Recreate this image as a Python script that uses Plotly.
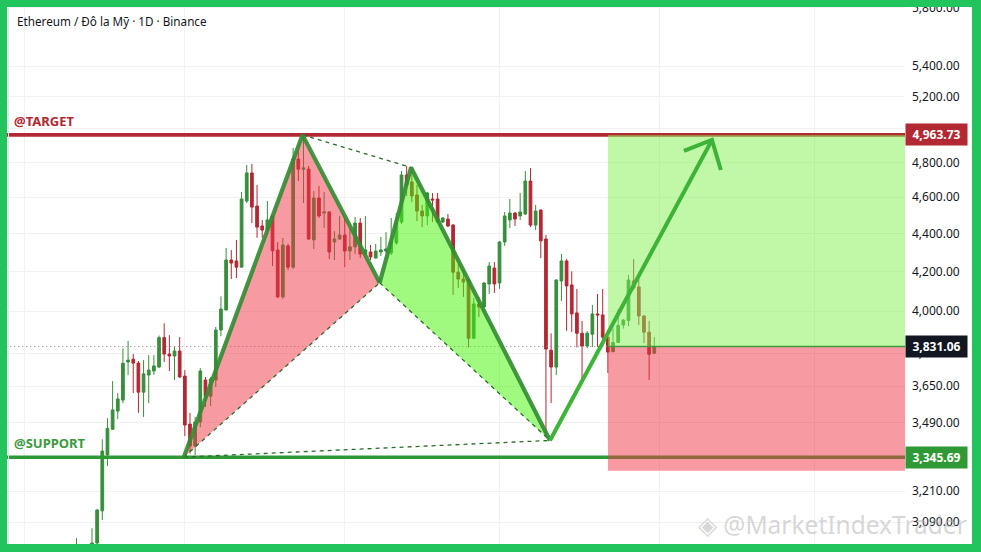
import math
import pandas as pd
import plotly.graph_objects as go

# ---------------- data ----------------
start_date = "2025-07-11"
opens = [2945, 2960, 2942, 2975, 3012, 3133, 3355, 3462, 3540, 3588,
         3759, 3772, 3754, 3623, 3700, 3718, 3736, 3873, 3796, 3787,
         3810, 3695, 3484, 3392, 3493, 3677, 3605, 3677, 3909, 4006,
         4259, 4254, 4222, 4578, 4738, 4550, 4440, 4418, 4496, 4311,
         4071, 4333, 4222, 4819, 4760, 4760, 4365, 4595, 4511, 4517,
         4354, 4370, 4391, 4306, 4328, 4456, 4290, 4301, 4269, 4301,
         4306, 4296, 4349, 4462, 4726, 4686, 4612, 4522, 4495, 4589,
         4589, 4462, 4478, 4445, 4196, 4161, 4156, 3870, 4036, 4021,
         4136, 4217, 4141, 4354, 4473, 4511, 4495, 4506, 4691, 4445,
         4528, 4370, 3814, 3736, 4151, 4254, 4131, 3992, 3894, 3833,
         3889, 3987, 3982, 3875, 3807, 3850, 3933, 3955, 4151, 4121,
         3977, 3899, 3800]
highs = [3030, 2975, 2990, 3067, 3140, 3420, 3509, 3672, 3619, 3822,
         3857, 3796, 3764, 3768, 3791, 3791, 3883, 3942, 3885, 3833,
         3876, 3722, 3532, 3515, 3731, 3691, 3691, 3924, 4074, 4322,
         4311, 4365, 4629, 4784, 4790, 4669, 4473, 4578, 4500, 4354,
         4376, 4344, 4885, 4873, 4950, 4778, 4634, 4663, 4629, 4520,
         4413, 4495, 4484, 4434, 4489, 4484, 4495, 4338, 4344, 4381,
         4407, 4484, 4511, 4749, 4778, 4772, 4669, 4556, 4630, 4623,
         4623, 4489, 4506, 4451, 4238, 4207, 4160, 4066, 4071, 4145,
         4248, 4248, 4360, 4517, 4589, 4517, 4623, 4749, 4766, 4556,
         4530, 4392, 3893, 4160, 4290, 4264, 4200, 4111, 3953, 3904,
         4031, 4086, 4111, 3893, 3916, 4011, 3962, 4182, 4264, 4171,
         3980, 3953, 3876]
lows = [2900, 2910, 2925, 2960, 2990, 3098, 3310, 3459, 3506, 3575,
        3700, 3619, 3532, 3515, 3575, 3700, 3731, 3759, 3718, 3677,
        3686, 3433, 3360, 3354, 3471, 3558, 3562, 3646, 3880, 4006,
        4161, 4166, 4222, 4567, 4456, 4376, 4376, 4407, 4228, 4065,
        4061, 4207, 4212, 4692, 4567, 4365, 4317, 4484, 4429, 4264,
        4259, 4365, 4222, 4259, 4290, 4269, 4290, 4259, 4269, 4280,
        4296, 4285, 4338, 4451, 4606, 4572, 4467, 4434, 4445, 4462,
        4456, 4456, 4434, 4081, 4116, 4071, 3827, 3866, 3972, 3997,
        4086, 4091, 4111, 4333, 4429, 4440, 4473, 4500, 4434, 4418,
        4269, 3430, 3575, 3700, 4051, 3905, 3900, 3827, 3677, 3823,
        3829, 3829, 3829, 3709, 3805, 3848, 3916, 3928, 4105, 3933,
        3847, 3677, 3795]
closes = [2960, 2942, 2975, 3012, 3136, 3371, 3466, 3545, 3593, 3753,
          3768, 3754, 3623, 3705, 3722, 3741, 3873, 3796, 3787, 3810,
          3691, 3480, 3392, 3493, 3718, 3605, 3682, 3909, 4011, 4259,
          4243, 4222, 4589, 4738, 4544, 4434, 4418, 4473, 4307, 4071,
          4338, 4222, 4819, 4760, 4767, 4370, 4595, 4495, 4517, 4301,
          4370, 4391, 4306, 4328, 4456, 4290, 4312, 4275, 4306, 4312,
          4317, 4354, 4456, 4726, 4669, 4606, 4522, 4495, 4623, 4584,
          4462, 4484, 4440, 4196, 4161, 4146, 3870, 4036, 4021, 4141,
          4228, 4136, 4354, 4495, 4511, 4478, 4517, 4691, 4445, 4522,
          4360, 3819, 3736, 4156, 4254, 4126, 3987, 3894, 3833, 3894,
          3987, 3982, 3875, 3805, 3850, 3931, 3957, 4156, 4116, 3977,
          3899, 3795, 3831.06]

target_price = 4963.73
support_price = 3345.69
last_price = 3831.06
stop_price = 3291.0
box_start = "2025-10-22 00:30"
far_left = "2025-05-01"
far_right = "2026-02-28"

# harmonic pattern points X, A, B, C, D
pattern_dates = ["2025-07-31 19:12", "2025-08-23 19:12", "2025-09-07 18:29",
                 "2025-09-13 20:10", "2025-10-10 18:43"]
pattern_prices = [3346, 4963.73, 4142, 4770, 3415]
arrow_dates = ["2025-10-10 18:43", "2025-11-11 04:19"]
arrow_prices = [3415, 4933]
arrowhead_dates = ["2025-11-05 18:00", "2025-11-11 04:19", "2025-11-12 21:36"]
arrowhead_prices = [4867, 4933, 4755]

tick_values = [3090, 3210, 3490, 3650, 3800, 4000, 4200, 4400, 4600,
               4800, 5000, 5200, 5400, 5800]

title_text = "Ethereum / Đô la Mỹ · 1D · Binance"
watermark_text = "@MarketIndexTrader"

# ---------------- styles ----------------
GREEN_C = "#388e3c"
RED_C = "#b22833"
BORDER = "#22c45d"
EDGE = "rgba(52,140,52,0.92)"
DASH = "#2d6a2d"
FONT = "Noto Sans"

dates = pd.date_range(start_date, periods=len(opens), freq="D")
X, A, B, C, D = range(5)
pd_ = pattern_dates
pp = pattern_prices

fig = go.Figure()

def line(xs, ys, color, width, dash=None):
    fig.add_trace(go.Scatter(x=xs, y=ys, mode="lines", hoverinfo="skip",
                             line=dict(color=color, width=width, dash=dash)))

def poly(xs, ys, color):
    fig.add_trace(go.Scatter(x=xs, y=ys, mode="lines", fill="toself",
                             fillcolor=color, line=dict(width=0),
                             hoverinfo="skip"))

# horizontal levels (below the zone boxes)
line([far_left, far_right], [support_price, support_price], "#2f9a35", 3.6)
line([far_left, far_right], [target_price, target_price], RED_C, 3.6)
line([far_left, far_right], [last_price, last_price], "#8c8c8c", 1, "1px,3px")

# position zones
poly([box_start, far_right, far_right, box_start, box_start],
     [last_price, last_price, target_price, target_price, last_price],
     "rgba(130,242,80,0.5)")
poly([box_start, far_right, far_right, box_start, box_start],
     [stop_price, stop_price, last_price, last_price, stop_price],
     "rgba(242,54,69,0.5)")
line([box_start, far_right], [last_price, last_price], "#3c9a3c", 1.5)

# pattern fills
poly([pd_[X], pd_[A], pd_[B], pd_[X]], [pp[X], pp[A], pp[B], pp[X]],
     "rgba(242,54,69,0.5)")
poly([pd_[B], pd_[C], pd_[D], pd_[B]], [pp[B], pp[C], pp[D], pp[B]],
     "rgba(70,245,10,0.52)")

# candles
fig.add_trace(go.Candlestick(
    x=dates, open=opens, high=highs, low=lows, close=closes,
    increasing=dict(line=dict(color=GREEN_C, width=1), fillcolor=GREEN_C),
    decreasing=dict(line=dict(color=RED_C, width=1), fillcolor=RED_C),
    hoverinfo="skip"))

# dashed pattern legs
for i, j in [(X, B), (B, D), (A, C), (X, D)]:
    line([pd_[i], pd_[j]], [pp[i], pp[j]], DASH, 1.3, "4px,4px")

# thick legs
line([pd_[X], pd_[A], pd_[B]], [pp[X], pp[A], pp[B]], EDGE, 4.2)
line([pd_[B], pd_[C], pd_[D]], [pp[B], pp[C], pp[D]], EDGE, 4.2)

# projection arrow
line(arrow_dates, arrow_prices, "#3db338", 4)
line(arrowhead_dates, arrowhead_prices, "#3db338", 4)

# ---------------- layout ----------------
W, H = 981, 552
ML, MR = 0, 76
PW = W - ML - MR

fig.update_layout(
    width=W, height=H,
    margin=dict(l=ML, r=MR, t=0, b=0),
    paper_bgcolor="white", plot_bgcolor="white",
    showlegend=False, boxgap=0.25,
    font=dict(family=FONT, size=12, color="#131722"),
    xaxis=dict(type="date", range=["2025-06-26 04:05", "2025-12-18 14:24"],
               rangeslider=dict(visible=False), showgrid=True,
               gridcolor="#f1f1f1", tick0="2025-07-01", dtick="M1",
               showticklabels=False, ticks="", zeroline=False,
               showline=False, fixedrange=True),
    yaxis=dict(type="log", side="right", range=[3.47409, 3.76752],
               tickvals=tick_values, tickformat=",.2f", showgrid=True,
               gridcolor="#f1f1f1", ticks="", zeroline=False,
               showline=False, ticklabelstandoff=6,
               ticklabeloverflow="allow",
               tickfont=dict(family=FONT, size=12, color="#131722")),
)

def px_x(p):
    return (p - ML) / PW

def px_y(p):
    return (H - p) / H

# green frame
frame = [
    (-0.2, 1.3, px_y(7), 1.2),
    (-0.2, 1.3, -0.2, px_y(544)),
    (-0.2, px_x(7), -0.2, 1.2),
    (px_x(972), 1.3, -0.2, 1.2),
]
for x0, x1, y0, y1 in frame:
    fig.add_shape(type="rect", xref="paper", yref="paper", x0=x0, x1=x1,
                  y0=y0, y1=y1, fillcolor=BORDER, line=dict(width=0),
                  layer="above")
fig.add_shape(type="line", xref="paper", yref="paper", x0=px_x(8.5),
              x1=px_x(8.5), y0=px_y(8), y1=px_y(544),
              line=dict(color="#e3e5ea", width=1), layer="above")

# title
fig.add_annotation(text=title_text, xref="paper", yref="paper",
                   x=px_x(15), y=px_y(21), xanchor="left", yanchor="middle",
                   showarrow=False, font=dict(size=11.7, color="#131722"))

# level labels
fig.add_annotation(text="<b>@TARGET</b>", xref="paper", yref="y",
                   x=px_x(12), y=math.log10(target_price), xanchor="left",
                   yanchor="bottom", yshift=3, showarrow=False,
                   font=dict(size=13, color=RED_C))
fig.add_annotation(text="<b>@SUPPORT</b>", xref="paper", yref="y",
                   x=px_x(12), y=math.log10(support_price), xanchor="left",
                   yanchor="bottom", yshift=3, showarrow=False,
                   font=dict(size=13, color="#3a9a3e"))

# price tags on the axis
for val, bg in [(target_price, RED_C), (last_price, "#131722"),
                (support_price, "#2f9a35")]:
    fig.add_annotation(text="<b>{:,.2f}</b>".format(val), xref="paper",
                       yref="y", x=1, y=math.log10(val), xanchor="left",
                       yanchor="middle", showarrow=False, bgcolor=bg,
                       width=57, borderpad=2, align="center",
                       font=dict(size=12, color="white"))

# watermark
fig.add_annotation(text="◈ " + watermark_text, xref="paper", yref="paper",
                   x=px_x(696), y=px_y(524), xanchor="left", yanchor="middle",
                   showarrow=False,
                   font=dict(size=24.5, color="rgba(175,175,175,0.5)"))

fig.write_html("out.html", config={"displayModeBar": False},
               post_script="document.body.style.margin='0px';"
                           "document.body.style.overflow='hidden';")
